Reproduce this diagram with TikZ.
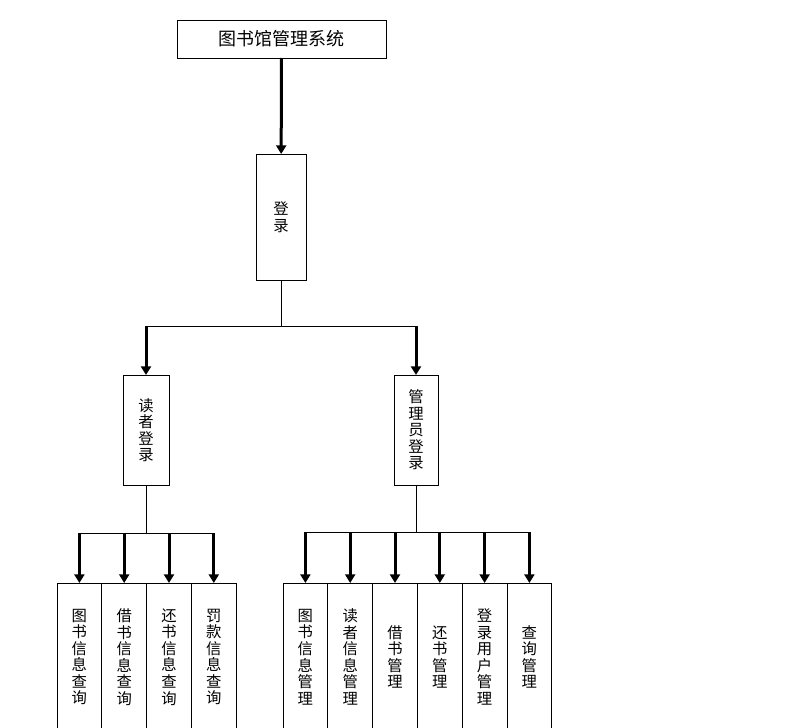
\documentclass[tikz,border=0pt]{standalone}
\usepackage{fontspec}
\setmainfont{Noto Sans CJK SC}
\usetikzlibrary{positioning,arrows.meta}
\newcommand\leaf[3]{\node(#1)[leafbox,right=0pt of #2]{#3};}

\begin{document}
\begin{tikzpicture}[x=0.75pt,y=-0.75pt,
    box/.style={draw,line width=0.75pt,inner sep=0pt,outer sep=0pt,align=center,
        font=\fontsize{11.5}{12.4}\selectfont},
    leafbox/.style={box,minimum width=33.6pt,minimum height=111pt},
    arr/.style={line width=2.25pt,-{Triangle[width=7.5pt,length=6.5pt]}},
    link/.style={line width=0.75pt}]
    \useasboundingbox (0,0) rectangle (794,728);
    \clip (0,0) rectangle (794,728);
    % top levels
    \node(sys)[box,minimum width=156.75pt,minimum height=28.5pt,
        font=\fontsize{13.5}{16}\selectfont] at (281.5,39) {图书馆管理系统};
    \node(login)[box,minimum width=37.5pt,minimum height=94.5pt] at (281,217) {登\\录};
    \node(reader)[box,minimum width=34.5pt,minimum height=82.5pt] at (146,430) {读\\者\\登\\录};
    \node(admin)[box,minimum width=33pt,minimum height=82.5pt] at (416,430) {管\\理\\员\\登\\录};
    % reader row
    \node(r1)[leafbox,anchor=north west] at (57,583) {图\\书\\信\\息\\查\\询};
    \leaf{r2}{r1}{借\\书\\信\\息\\查\\询}
    \leaf{r3}{r2}{还\\书\\信\\息\\查\\询}
    \leaf{r4}{r3}{罚\\款\\信\\息\\查\\询}
    % admin row
    \node(a1)[leafbox,anchor=north west] at (283,583) {图\\书\\信\\息\\管\\理};
    \leaf{a2}{a1}{读\\者\\信\\息\\管\\理}
    \leaf{a3}{a2}{借\\书\\管\\理}
    \leaf{a4}{a3}{还\\书\\管\\理}
    \leaf{a5}{a4}{登\\录\\用\\户\\管\\理}
    \leaf{a6}{a5}{查\\询\\管\\理}
    % connectors
    \coordinate(b1) at (281,326);
    \coordinate(b2) at (146,533);
    \coordinate(b3) at (416,532);
    \draw[arr] (sys) -- (login);
    \draw[link] (login) -- (b1);
    \draw[link] (reader.north |- b1) -- (admin.north |- b1);
    \draw[arr] (reader.north |- b1) -- (reader);
    \draw[arr] (admin.north |- b1) -- (admin);
    \draw[link] (reader) -- (b2);
    \draw[link] (r1.north |- b2) -- (r4.north |- b2);
    \draw[arr] (r1.north |- b2) -- (r1);
    \draw[arr] (r2.north |- b2) -- (r2);
    \draw[arr] (r3.north |- b2) -- (r3);
    \draw[arr] (r4.north |- b2) -- (r4);
    \draw[link] (admin) -- (b3);
    \draw[link] (a1.north |- b3) -- (a6.north |- b3);
    \draw[arr] (a1.north |- b3) -- (a1);
    \draw[arr] (a2.north |- b3) -- (a2);
    \draw[arr] (a3.north |- b3) -- (a3);
    \draw[arr] (a4.north |- b3) -- (a4);
    \draw[arr] (a5.north |- b3) -- (a5);
    \draw[arr] (a6.north |- b3) -- (a6);
\end{tikzpicture}
\end{document}
